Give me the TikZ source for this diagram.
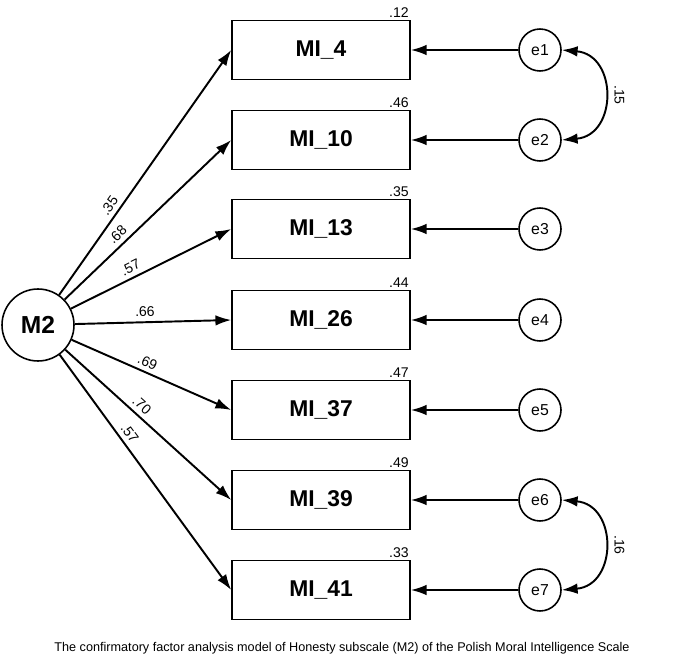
\documentclass[tikz,border=0pt]{standalone}
\usepackage{fontspec}
\setmainfont{Liberation Sans}
\usetikzlibrary{arrows.meta}
\begin{document}
\begin{tikzpicture}[x=0.02cm,y=-0.02cm,
  obs/.style={draw,line width=0.9pt,minimum width=3.56cm,minimum height=1.18cm,font=\fontsize{13}{15}\selectfont\bfseries},
  err/.style={draw,circle,line width=0.9pt,minimum size=0.84cm,inner sep=0pt,font=\fontsize{9}{10}\selectfont},
  lat/.style={draw,circle,line width=0.9pt,minimum size=1.44cm,inner sep=0pt,font=\fontsize{14}{16}\selectfont\bfseries},
  arr/.style={-{Latex[length=9pt,width=6pt]},line width=1.1pt},
  darr/.style={{Latex[length=9pt,width=6pt]}-{Latex[length=9pt,width=6pt]},line width=1.1pt},
  lab/.style={font=\fontsize{8}{9}\selectfont,inner sep=2.5pt},
  r2/.style={font=\fontsize{8}{9}\selectfont,anchor=south east,inner sep=1pt}]
\useasboundingbox (0,0) rectangle (685,665);
\node[lat] (M) at (38,325) {M2};
\foreach \n/\y/\r/\l/\p [count=\i] in {4/50/.12/.35/0.34,10/140/.46/.68/0.36,13/229/.35/.57/0.4,26/320/.44/.66/0.45,37/410/.47/.69/0.45,39/500/.49/.70/0.42,41/590/.33/.57/0.36}{
  \node[obs] (b\i) at (321,\y) {MI\_\n};
  \node[r2] at (b\i.north east) {\r};
  \node[err] (e\i) at (540,\y) {e\i};
  \draw[arr] (e\i) -- (b\i.east);
  \draw[arr] (M) -- node[lab,sloped,above,pos=\p] {\l} (b\i.west);
}
\draw[darr] (e1.east) to[out=-5,in=5,looseness=1.6] node[lab,rotate=-90,anchor=south,yshift=3pt] {.15} (e2.east);
\draw[darr] (e6.east) to[out=-5,in=5,looseness=1.6] node[lab,rotate=-90,anchor=south,yshift=3pt] {.16} (e7.east);
\node[font=\fontsize{7.2}{8}\selectfont] (cap) at (342,648) {The confirmatory factor analysis model of Honesty subscale (M2) of the Polish Moral Intelligence Scale};
\end{tikzpicture}
\end{document}
